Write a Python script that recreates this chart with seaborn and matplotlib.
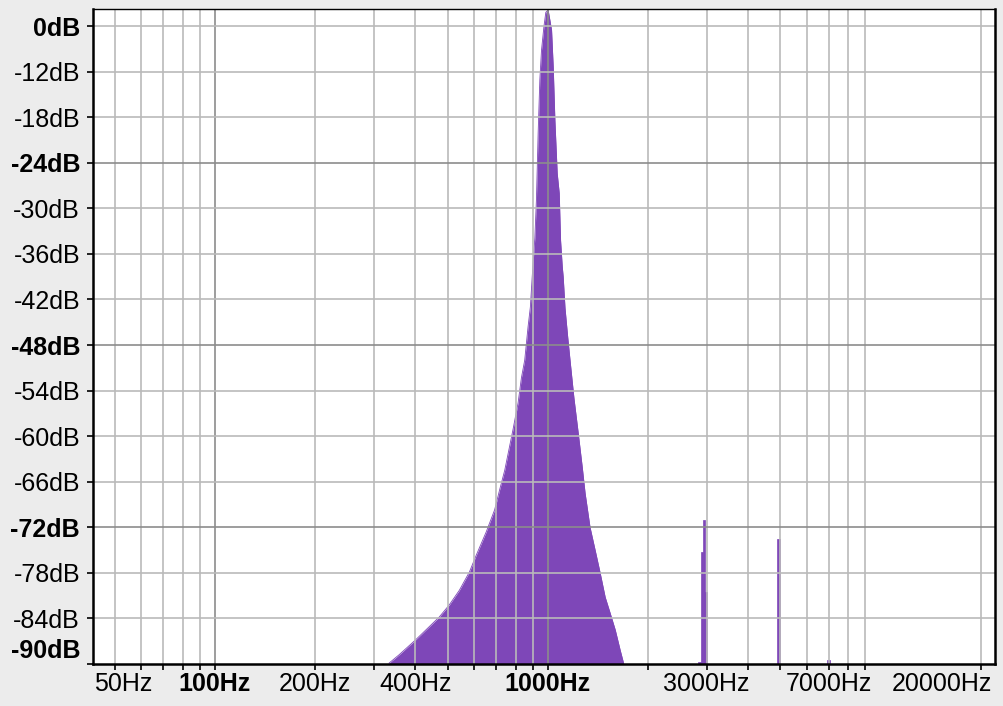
import matplotlib
matplotlib.use('Agg')
import matplotlib.pyplot as plt
import matplotlib.transforms as mtransforms
from matplotlib.ticker import NullFormatter
import seaborn as sns

# ---- data ----
# main 1 kHz tone, outline of the filled spectrum (Hz, dB)
peak_hz = [333, 357, 401, 472, 506, 542, 581, 609, 653, 692,
           716, 742, 786, 814, 833, 852, 872, 886, 903, 914,
           924, 935, 946, 957, 973, 986, 1002, 1026, 1038, 1050,
           1067, 1082, 1092, 1105, 1112, 1126, 1147, 1166, 1198, 1234,
           1269, 1294, 1339, 1387, 1436, 1487, 1539, 1594, 1650, 1689]
peak_db = [-89.9, -88.8, -86.8, -83.8, -82.2, -80.3, -77.9, -75.7, -72.6, -69.7,
           -67.1, -64.5, -59.1, -55.6, -52.3, -50.0, -45.6, -43.0, -37.1, -33.9,
           -28.9, -20.1, -13.1, -9.2, -6.1, -4.2, -3.9, -6.5, -11.4, -18.4,
           -25.4, -28.0, -34.2, -37.7, -39.0, -43.1, -46.9, -50.0, -55.0, -59.6,
           -64.1, -67.5, -72.0, -75.0, -78.0, -81.2, -83.3, -85.5, -88.2, -89.9]

# odd harmonics: single FFT bins (left edge Hz, right edge Hz, dB)
harm_lo = [2834, 2880, 2925, 2960, 4885, 6900]
harm_hi = [2880, 2925, 2960, 2998, 4975, 7030]
harm_db = [-89.8, -75.2, -71.0, -80.5, -73.5, -89.5]

# axis ticks / labels
db_ticks = [-6, -12, -18, -24, -30, -36, -42, -48, -54, -60, -66, -72, -78, -84, -90]
db_labels = ['0dB', '-12dB', '-18dB', '-24dB', '-30dB', '-36dB', '-42dB', '-48dB',
             '-54dB', '-60dB', '-66dB', '-72dB', '-78dB', '-84dB', '-90dB']
db_dark = [-24, -48, -72]
hz_ticks = [50, 100, 200, 400, 1000, 3000, 7000, 20000]
hz_labels = ['50Hz', '100Hz', '200Hz', '400Hz', '1000Hz', '3000Hz', '7000Hz', '20000Hz']
hz_grid = [50, 60, 70, 80, 90, 100, 200, 300, 400, 500, 600, 700, 800, 900,
           1000, 2000, 3000, 4000, 5000, 6000, 7000, 8000, 9000, 20000]
hz_dark = [100, 1000]
bold_labels = ['0dB', '-24dB', '-48dB', '-72dB', '-90dB', '100Hz', '1000Hz']

FLOOR = -90
PURPLE = '#7e47b8'
BG = '#ececec'
LIGHT = '#bababa'
DARK = '#8c8c8c'
FS = 18

sns.set_style('white')
plt.rcParams['font.family'] = ['Liberation Sans', 'DejaVu Sans']
plt.rcParams['text.color'] = 'black'

fig = plt.figure(figsize=(10.04, 7.06), dpi=100, facecolor=BG)
ax = fig.add_axes([93 / 1004, 42 / 706, 902 / 1004, 655 / 706])
ax.set_facecolor('white')
ax.set_xscale('log')

# spectrum
ax.fill_between(peak_hz, peak_db, FLOOR, color=PURPLE, lw=0, zorder=1)
sns.lineplot(x=peak_hz, y=peak_db, color=PURPLE, lw=0.6, sort=False, ax=ax, zorder=1)
ax.bar(harm_lo, [d - FLOOR for d in harm_db],
       width=[h - l for l, h in zip(harm_lo, harm_hi)],
       bottom=FLOOR, align='edge', color=PURPLE, edgecolor=PURPLE, lw=0.5, zorder=1)

# grid drawn over the spectrum, like the original
for f in hz_grid:
    ax.axvline(f, color=DARK if f in hz_dark else LIGHT, lw=1.2, zorder=2)
for d in db_ticks[:-1]:
    ax.axhline(d, color=DARK if d in db_dark else LIGHT, lw=1.2, zorder=2)

ax.set_xlim(43, 22050)
ax.set_ylim(FLOOR, -3.76)

# x ticks: end labels are pushed inside the frame, so they are drawn as text
ax.set_xticks(hz_ticks[1:-1], labels=hz_labels[1:-1])
ax.set_xticks(hz_grid, minor=True)
ax.xaxis.set_minor_formatter(NullFormatter())
ax.tick_params(axis='x', which='both', direction='out', length=4, width=1.2,
               color='black', labelcolor='black', pad=1.7, labelsize=FS, bottom=True)
ax.text(0.0015, -0.0122, hz_labels[0], transform=ax.transAxes,
        ha='left', va='top', fontsize=FS, color='black')
ax.text(0.9967, -0.0122, hz_labels[-1], transform=ax.transAxes,
        ha='right', va='top', fontsize=FS, color='black')

# y ticks: the bottom label sits just above its tick
ax.set_yticks(db_ticks, labels=db_labels[:-1] + [''])
ax.tick_params(axis='y', direction='out', length=4, width=1.2,
               color='black', labelcolor='black', pad=5.3, labelsize=FS, left=True)
trans = mtransforms.offset_copy(ax.get_yaxis_transform(), fig=fig, y=6, units='dots')
ax.text(-0.0144, FLOOR, db_labels[-1], transform=trans, ha='right', va='baseline',
        fontsize=FS, fontweight='bold', color='black')

for lab in ax.get_xticklabels() + ax.get_yticklabels():
    if lab.get_text() in bold_labels:
        lab.set_fontweight('bold')

for side in ['left', 'right', 'bottom', 'top']:
    ax.spines[side].set_visible(True)
    ax.spines[side].set_color('black')
    ax.spines[side].set_linewidth(1.8)
    ax.spines[side].set_zorder(3)
ax.spines['top'].set_linewidth(1.0)

ax.set_xlabel('')
ax.set_ylabel('')

fig.savefig('out.png', dpi=100, facecolor=BG)
